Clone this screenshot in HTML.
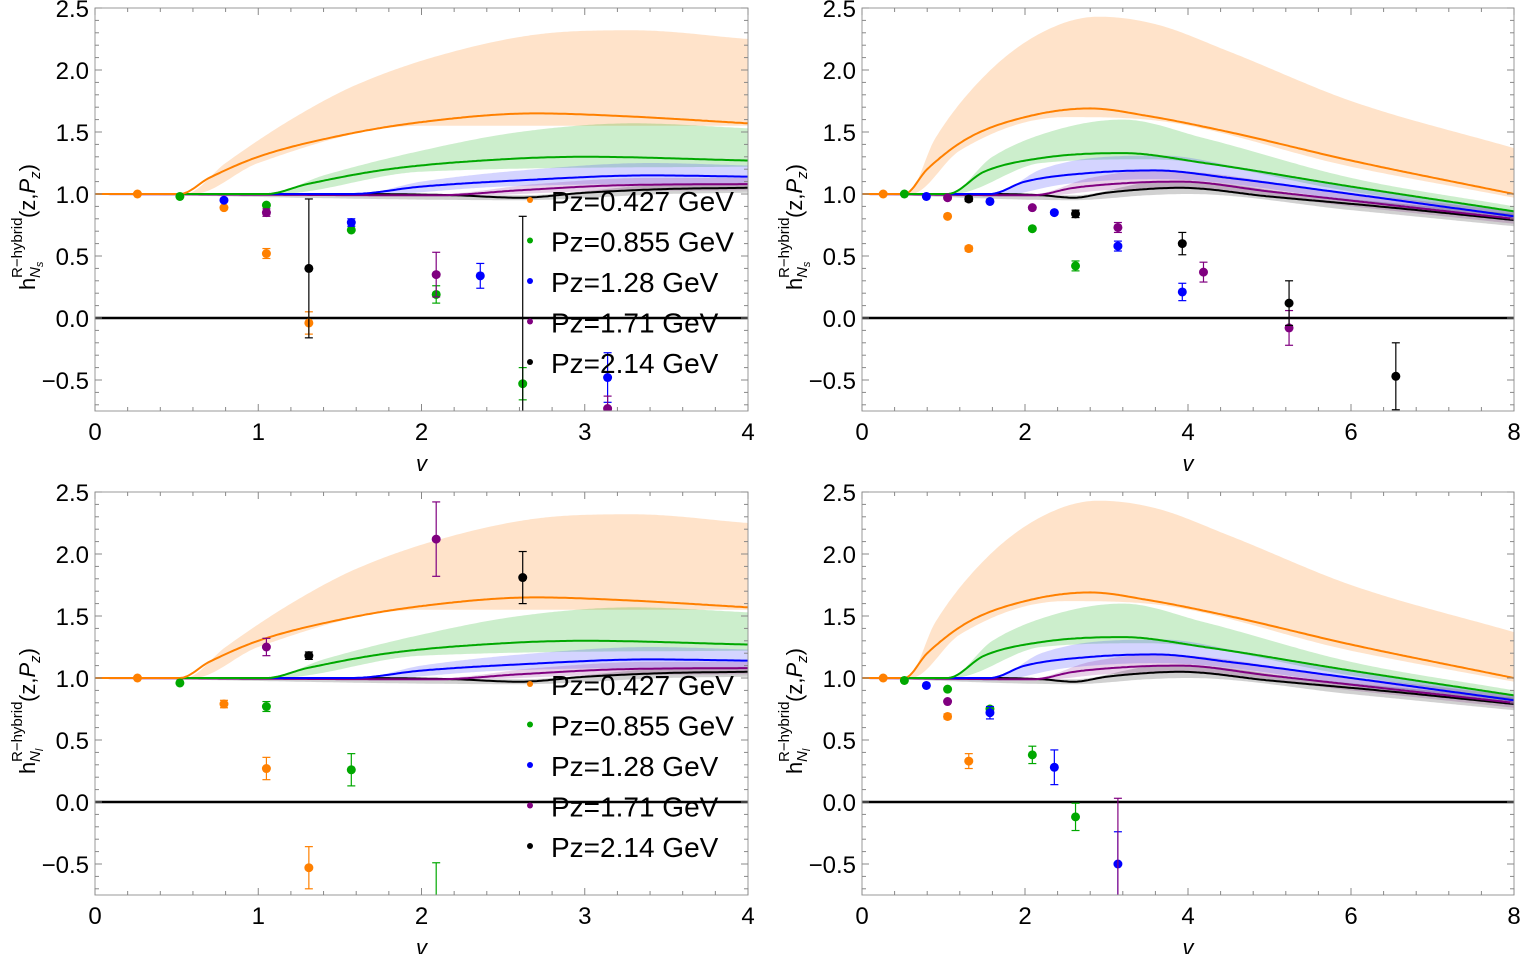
<!DOCTYPE html>
<html><head><meta charset="utf-8"><style>
html,body{margin:0;padding:0;background:#fff}
svg{display:block}
text{font-family:"Liberation Sans",sans-serif}
</style></head><body>
<svg id="s" width="1520" height="954" viewBox="0 0 1520 954" xmlns="http://www.w3.org/2000/svg"></svg>
<script>
const S=document.getElementById('s');let out='';
const C={o:'#ff8000',g:'#00a800',b:'#0000ff',p:'#800080',k:'#000000'};
const B={o:'rgba(255,150,60,0.27)',g:'rgba(0,170,0,0.2)',b:'rgba(40,40,255,0.2)',p:'rgba(128,0,128,0.18)',k:'rgba(0,0,0,0.18)'};
function interp(P,x){const n=P.length;if(x<=P[0][0])return P[0][1];if(x>=P[n-1][0])return P[n-1][1];
 const d=[],m=[];for(let i=0;i<n-1;i++)d.push((P[i+1][1]-P[i][1])/(P[i+1][0]-P[i][0]));
 m[0]=d[0];m[n-1]=d[n-2];for(let i=1;i<n-1;i++)m[i]=(d[i-1]*d[i]<=0)?0:(d[i-1]+d[i])/2;
 for(let i=0;i<n-1;i++){if(d[i]===0){m[i]=0;m[i+1]=0;}else{const a=m[i]/d[i],b=m[i+1]/d[i],s=a*a+b*b;if(s>9){const t=3/Math.sqrt(s);m[i]=t*a*d[i];m[i+1]=t*b*d[i];}}}
 let i=0;while(x>P[i+1][0])i++;const h=P[i+1][0]-P[i][0],t=(x-P[i][0])/h;
 return (2*t*t*t-3*t*t+1)*P[i][1]+(t*t*t-2*t*t+t)*h*m[i]+(-2*t*t*t+3*t*t)*P[i+1][1]+(t*t*t-t*t)*h*m[i+1];}
const curves4={
o:{l:[[0,1],[0.52,1],[0.7,1.13],[1,1.3],[1.5,1.47],[2,1.58],[2.7,1.65],[3.2,1.63],[4,1.57]],u:[[0,1],[0.55,1],[0.8,1.25],[1.2,1.6],[1.6,1.88],[2.2,2.15],[2.8,2.3],[3.3,2.32],[4,2.25]],d:[[0,1],[0.6,1],[1,1.25],[2,1.55],[4,1.55]]},
g:{l:[[0,1],[1.05,1],[1.3,1.08],[1.8,1.2],[2.5,1.28],[3,1.3],[4,1.27]],u:[[0,1],[1.05,1],[1.4,1.15],[2,1.35],[2.6,1.5],[3.3,1.57],[4,1.53]],d:[[0,1],[1.1,1],[2,1.18],[4,1.22]]},
b:{l:[[0,1],[1.57,1],[2,1.06],[2.6,1.11],[3.4,1.15],[4,1.14]],u:[[0,1],[1.6,1],[2,1.1],[2.7,1.2],[3.4,1.25],[4,1.23]],d:[[0,1],[1.6,0.99],[2.5,1.06],[4,1.09]]},
p:{l:[[0,1],[2.1,0.99],[2.6,1.03],[3.2,1.07],[4,1.08]],u:[[0,1],[2.1,1],[2.7,1.08],[3.4,1.13],[4,1.13]],d:[[0,1],[2.1,0.98],[3,1.02],[4,1.03]]},
k:{l:[[0,1],[1.6,1],[2.2,0.99],[2.6,0.97],[3,1.01],[3.5,1.04],[4,1.05]],u:[[0,1],[2.6,0.99],[3.5,1.08],[4,1.09]],d:[[0,1],[2.6,0.95],[3.5,1.0],[4,1.01]]}};
const curves8={
o:{l:[[0,1],[0.52,1],[0.8,1.2],[1.3,1.45],[2,1.62],[2.8,1.69],[3.5,1.63],[4.5,1.5],[6,1.27],[8,1.0]],u:[[0,1],[0.55,1],[0.9,1.45],[1.5,1.95],[2.2,2.3],[2.9,2.43],[3.6,2.37],[4.5,2.15],[6,1.75],[8,1.37]],d:[[0,1],[0.6,1],[1.2,1.35],[2.5,1.62],[3.5,1.6],[6,1.22],[8,0.97]]},
g:{l:[[0,1],[1.05,1],[1.5,1.18],[2.2,1.29],[3.2,1.33],[4.2,1.25],[6,1.06],[8,0.86]],u:[[0,1],[1.05,1],[1.6,1.3],[2.4,1.52],[3.2,1.6],[4.2,1.45],[6,1.13],[8,0.9]],d:[[0,1],[1.1,1],[2.2,1.25],[3.5,1.28],[6,1.02],[8,0.82]]},
b:{l:[[0,1],[1.57,1],[2,1.1],[2.8,1.17],[3.6,1.19],[4.5,1.13],[6,1.0],[8,0.82]],u:[[0,1],[1.6,1],[2.2,1.2],[3,1.3],[3.7,1.31],[4.6,1.22],[6,1.06],[8,0.86]],d:[[0,1],[1.6,0.98],[2.5,1.08],[3.6,1.12],[6,0.95],[8,0.78]]},
p:{l:[[0,1],[2.1,0.99],[2.6,1.05],[3.3,1.09],[3.9,1.1],[5,1.02],[6.5,0.91],[8,0.8]],u:[[0,1],[2.1,1],[2.8,1.13],[3.6,1.19],[4.2,1.17],[5.5,1.05],[8,0.86]],d:[[0,1],[2.1,0.98],[3,1.03],[4,1.04],[6,0.9],[8,0.76]]},
k:{l:[[0,1],[1.6,1],[2.2,0.99],[2.6,0.97],[3,1.01],[3.5,1.04],[3.9,1.05],[5,0.98],[6.5,0.89],[8,0.79]],u:[[0,1],[2.6,0.99],[3.5,1.09],[4,1.1],[5.5,0.99],[8,0.84]],d:[[0,1],[2.6,0.95],[3.5,0.99],[4,1.0],[6,0.87],[8,0.74]]}};
function panel(x0,x1,yTop,xmax,curves,pts,legend,ylab){
 const ppu=124,y0=yTop+2.5*ppu,yB=y0+0.75*ppu;
 const X=v=>x0+(x1-x0)*v/xmax, Y=h=>y0-h*ppu;
 out+=`<defs><clipPath id="c${x0}${yTop}"><rect x="${x0}" y="${yTop}" width="${x1-x0}" height="${yB-yTop}"/></clipPath></defs><g clip-path="url(#c${x0}${yTop})">`;
 for(const k of ['o','g','b','p','k']){const c=curves[k];let up=[],dn=[];
  for(let i=0;i<=300;i++){const v=xmax*i/300;up.push(X(v).toFixed(1)+','+Y(interp(c.u,v)).toFixed(1));dn.unshift(X(v).toFixed(1)+','+Y(Math.min(interp(c.d,v),interp(c.l,v))).toFixed(1));}
  out+=`<polygon points="${up.join(' ')} ${dn.join(' ')}" fill="${B[k]}"/>`;}
 for(const k of ['k','p','b','g','o']){const c=curves[k];let ln=[];for(let i=0;i<=300;i++){const v=xmax*i/300;ln.push(X(v).toFixed(1)+','+Y(interp(c.l,v)).toFixed(1));}
  out+=`<polyline points="${ln.join(' ')}" fill="none" stroke="${C[k]}" stroke-width="2"/>`;}
 out+=`<line x1="${x0}" x2="${x1}" y1="${y0}" y2="${y0}" stroke="#000" stroke-width="2.5"/>`;
 for(const p of pts){const [k,v,h,e,e2]=p;const x=X(v);
  if(e){const lo=h-e,hi=h+(e2!==undefined?e2:e);out+=`<line x1="${x}" x2="${x}" y1="${Y(hi)}" y2="${Y(lo)}" stroke="${C[k]}" stroke-width="1.2"/><line x1="${x-4}" x2="${x+4}" y1="${Y(hi)}" y2="${Y(hi)}" stroke="${C[k]}" stroke-width="1.2"/><line x1="${x-4}" x2="${x+4}" y1="${Y(lo)}" y2="${Y(lo)}" stroke="${C[k]}" stroke-width="1.2"/>`;}
  out+=`<circle cx="${x}" cy="${Y(h)}" r="4.5" fill="${C[k]}"/>`;}
 out+='</g>';
 out+=`<rect x="${x0}" y="${yTop}" width="${x1-x0}" height="${yB-yTop}" fill="none" stroke="#999" stroke-width="1"/>`;
 const step=xmax==4?1:2,minor=xmax==4?0.2:0.4;
 for(let v=0;v<=xmax+1e-6;v+=minor){const x=X(v);const maj=Math.abs(v/step-Math.round(v/step))<1e-6;const L=maj?7:4;
  out+=`<line x1="${x}" x2="${x}" y1="${yB}" y2="${yB-L}" stroke="#888"/><line x1="${x}" x2="${x}" y1="${yTop}" y2="${yTop+L}" stroke="#888"/>`;
  if(maj)out+=`<text x="${x}" y="${yB+29}" font-size="24" text-anchor="middle">${Math.round(v)}</text>`;}
 for(let h=-0.7;h<=2.5+1e-6;h+=0.1){const y=Y(h);const maj=Math.abs(h*2-Math.round(h*2))<1e-6;const L=maj?7:4;
  out+=`<line x1="${x0}" x2="${x0+L}" y1="${y}" y2="${y}" stroke="#888"/><line x1="${x1}" x2="${x1-L}" y1="${y}" y2="${y}" stroke="#888"/>`;
  if(maj){const t=(Math.round(h*2)/2);out+=`<text x="${x0-6}" y="${y+9}" font-size="24" text-anchor="end">${t<0?'\u2212':''}${Math.abs(t).toFixed(1)}</text>`;}}
 out+=`<text x="${(x0+x1)/2}" y="${yB+60}" font-size="22" font-style="italic" text-anchor="middle">v</text>`;
 // y label rotated: origin at baseline bottom
 const by=yTop+282,bx=x0-60;
 out+=`<g transform="translate(${bx},${by}) rotate(-90)">
 <text x="0" y="0" font-size="22">h</text>
 <text x="12" y="-13" font-size="15">R\u2212hybrid</text>
 <text x="12" y="5" font-size="15" font-style="italic">N<tspan font-size="11" dy="3">${ylab}</tspan></text>
 <text x="72" y="0" font-size="22">(z,<tspan font-style="italic">P</tspan><tspan font-size="15" font-style="italic" dy="5">z</tspan><tspan dy="-5">)</tspan></text></g>`;
 if(legend){const labs=[['o','Pz=0.427 GeV'],['g','Pz=0.855 GeV'],['b','Pz=1.28 GeV'],['p','Pz=1.71 GeV'],['k','Pz=2.14 GeV']];
  labs.forEach((l,i)=>{const y=legend+i*40.5;out+=`<circle cx="530" cy="${y+3}" r="3" fill="${C[l[0]]}"/><text x="551" y="${y+14}" font-size="28">${l[1]}</text>`;});}
}
const TL=[['o',0.26,1.0],['o',0.79,0.89],['o',1.05,0.52,0.04],['o',1.31,-0.04,0.09],
['g',0.52,0.98],['g',1.05,0.91],['g',1.57,0.71],['g',2.09,0.19,0.07],['g',2.62,-0.53,0.13],
['b',0.79,0.95],['b',1.57,0.77,0.03],['b',2.36,0.34,0.1],['b',3.14,-0.48,0.2],
['p',1.05,0.85,0.03],['p',2.09,0.35,0.18],['p',3.14,-0.73,0.1],
['k',1.31,0.4,0.56],['k',2.62,-1.3,0.1,2.12]];
const TR=[['o',0.26,1.0],['o',1.05,0.82],['o',1.31,0.56,0.02],['g',0.52,1.0],['g',2.09,0.72],['g',2.62,0.42,0.04],
['b',0.79,0.98],['b',1.57,0.94],['b',2.36,0.85],['b',3.14,0.58,0.04],['b',3.93,0.21,0.07],
['p',1.05,0.97],['p',2.09,0.89],['p',3.14,0.73,0.04],['p',4.19,0.37,0.08],['p',5.24,-0.08,0.14],
['k',1.31,0.96,0.02],['k',2.62,0.84,0.03],['k',3.93,0.6,0.09],['k',5.24,0.12,0.18],['k',6.55,-0.47,0.27]];
const BL=[['o',0.26,1.0],['o',0.79,0.79,0.03],['o',1.05,0.27,0.09],['o',1.31,-0.53,0.17],
['g',0.52,0.96],['g',1.05,0.77,0.04],['g',1.57,0.26,0.13],['g',2.09,-0.8,0.1,0.31],
['p',1.05,1.25,0.07],['p',2.09,2.12,0.3],['k',1.31,1.18,0.03],['k',2.62,1.81,0.21]];
const BR=[['o',0.26,1.0],['o',1.05,0.69,0.02],['o',1.31,0.33,0.06],['g',0.52,0.98],['g',1.05,0.91],['g',1.57,0.75],['g',2.09,0.38,0.07],['g',2.62,-0.12,0.11],
['b',0.79,0.94],['b',1.57,0.72,0.05],['b',2.36,0.28,0.14],['b',3.14,-0.5,0.26],['p',1.05,0.81],['p',3.14,-0.9,0.1,0.93]];
panel(95,748,8,4,curves4,TL,197,'s');
panel(862,1514,8,8,curves8,TR,0,'s');
panel(95,748,492,4,curves4,BL,681,'l');
panel(862,1514,492,8,curves8,BR,0,'l');
S.innerHTML=out;
</script>
</body></html>
